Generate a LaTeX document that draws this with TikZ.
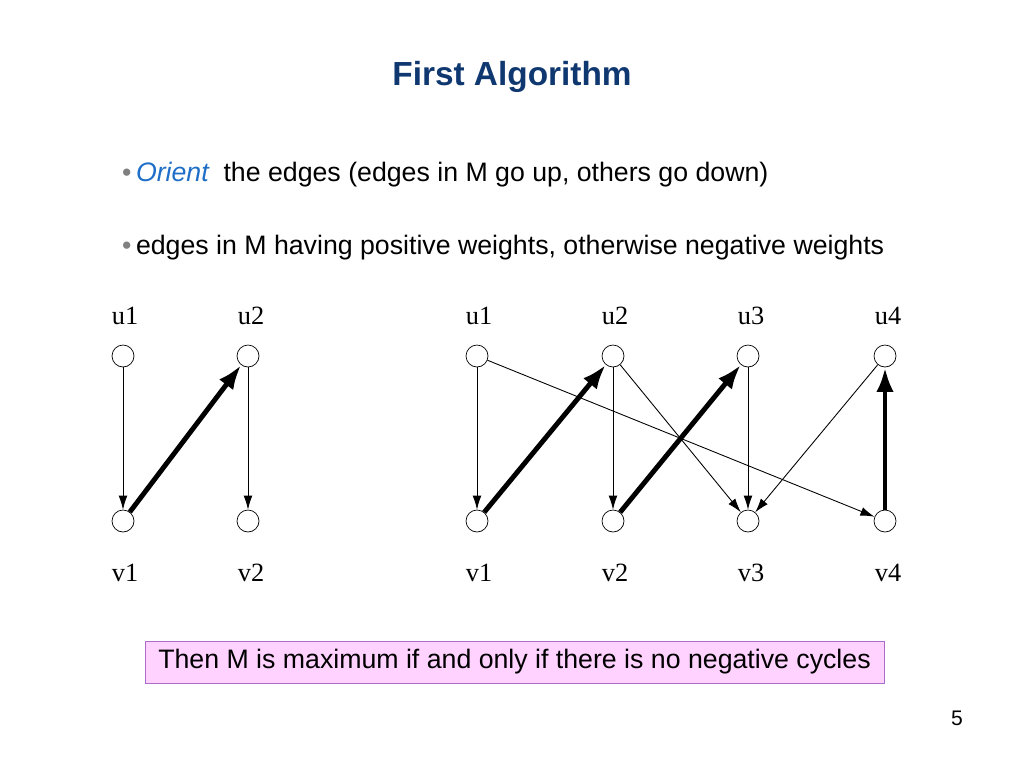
\documentclass[tikz,border=0pt]{standalone}
\usepackage{fontspec}
\setmainfont{Liberation Sans}
\newfontfamily\labelfont{Liberation Serif}
\usetikzlibrary{arrows.meta}
\definecolor{titleblue}{RGB}{16,56,112}
\definecolor{orientblue}{RGB}{30,110,200}
\definecolor{boxpink}{RGB}{255,210,255}
\definecolor{boxline}{RGB}{170,110,200}
\begin{document}
\begin{tikzpicture}
    [
        x=0.02cm, y=-0.02cm,
        vertex/.style={circle, draw, fill=white, minimum size=0.44cm, inner sep=0pt},
        edge/.style={-{Latex[length=8pt, width=5pt]}, line width=0.5pt},
        match/.style={-{Latex[length=14pt, width=10pt]}, line width=2.8pt},
        lbl/.style={font=\labelfont\fontsize{15}{17}\selectfont},
        txt/.style={font=\fontsize{15.2}{18}\selectfont, anchor=west},
    ]
    \useasboundingbox (0,0) rectangle (1024,768);

    % title and bullets
    \node (title) at (512,77) [font=\bfseries\fontsize{19}{22}\selectfont, text=titleblue] {First Algorithm};
    \node (b1) at (116,175) [txt] {\textcolor{gray}{\textbullet}\,\textcolor{orientblue}{\itshape Orient}\ \ the edges (edges in M go up, others go down)};
    \node (b2) at (116,248) [txt] {\textcolor{gray}{\textbullet}\,edges in M having positive weights, otherwise negative weights};

    % left graph
    \node (lu1) at (123,356) [vertex] {};
    \node (lu2) at (248,356) [vertex] {};
    \node (lv1) at (123,521) [vertex] {};
    \node (lv2) at (248,521) [vertex] {};
    \node at (125,316) [lbl] {u1};
    \node at (251,316) [lbl] {u2};
    \node at (125,573) [lbl] {v1};
    \node at (251,573) [lbl] {v2};

    \draw [edge] (lu1) -- (lv1);
    \draw [edge] (lu2) -- (lv2);
    \draw [match] (lv1) -- (lu2);

    % right graph
    \node (ru1) at (477,356) [vertex] {};
    \node (ru2) at (613,356) [vertex] {};
    \node (ru3) at (748,356) [vertex] {};
    \node (ru4) at (885,356) [vertex] {};
    \node (rv1) at (477,521) [vertex] {};
    \node (rv2) at (613,521) [vertex] {};
    \node (rv3) at (748,521) [vertex] {};
    \node (rv4) at (885,521) [vertex] {};
    \node at (479,316) [lbl] {u1};
    \node at (615,316) [lbl] {u2};
    \node at (751,316) [lbl] {u3};
    \node at (888,316) [lbl] {u4};
    \node at (479,573) [lbl] {v1};
    \node at (615,573) [lbl] {v2};
    \node at (751,573) [lbl] {v3};
    \node at (888,573) [lbl] {v4};

    \draw [edge] (ru1) -- (rv1);
    \draw [edge] (ru1) -- (rv4);
    \draw [edge] (ru2) -- (rv2);
    \draw [edge] (ru2) -- (rv3);
    \draw [edge] (ru3) -- (rv3);
    \draw [edge] (ru4) -- (rv3);
    \draw [match] (rv1) -- (ru2);
    \draw [match] (rv2) -- (ru3);
    \draw [match] (rv4) -- (ru4);

    % conclusion
    \node (concl) at (514.5,662) [draw=boxline, fill=boxpink, minimum width=14.78cm, minimum height=0.84cm, font=\fontsize{15.2}{18}\selectfont] {Then M is maximum if and only if there is no negative cycles};
    \node (page) at (957,718) [font=\fontsize{12}{14}\selectfont] {5};
\end{tikzpicture}
\end{document}
